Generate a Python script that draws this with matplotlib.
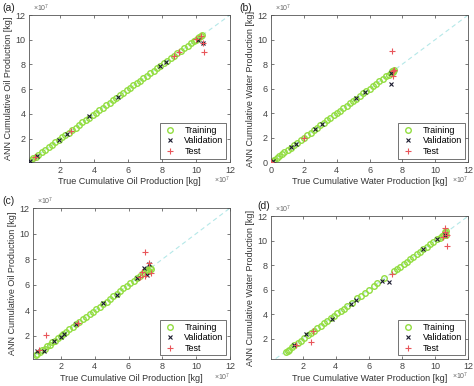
import numpy as np
import matplotlib
matplotlib.use('Agg')
import matplotlib.pyplot as plt

plt.rcParams['font.family'] = ['Liberation Sans', 'DejaVu Sans']
plt.rcParams['mathtext.fontset'] = 'custom'
plt.rcParams['mathtext.rm'] = 'Liberation Sans'

# all values in units of 1e7 kg as (true, ANN) pairs
a_train = [(0.15,0.16),(0.25,0.24),(0.4,0.41),(0.55,0.55),(0.7,0.71),(0.9,0.89),(1.1,1.1),(1.3,1.31),
           (1.5,1.5),(1.7,1.69),(1.9,1.9),(2.1,2.11),(2.3,2.3),(2.5,2.49),(2.7,2.71),(2.9,2.9),(3.1,3.1),
           (3.3,3.31),(3.5,3.5),(3.7,3.69),(3.9,3.9),(4.1,4.1),(4.3,4.31),(4.5,4.5),(4.7,4.7),(4.9,4.89),
           (5.1,5.1),(5.3,5.31),(5.5,5.5),(5.7,5.7),(5.9,5.9),(6.1,6.11),(6.3,6.3),(6.5,6.5),(6.7,6.69),
           (6.9,6.9),(7.1,7.1),(7.3,7.31),(7.5,7.5),(7.7,7.7),(7.9,7.9),(8.1,8.1),(8.3,8.31),(8.5,8.5),
           (8.7,8.7),(8.9,8.89),(9.1,9.1),(9.3,9.3),(9.5,9.5),(9.7,9.7),(9.9,9.9),(10.0,10.0),(10.1,10.12),
           (10.2,10.2),(10.3,10.3),(10.35,10.36)]
a_val = [(0.2,0.2),(0.6,0.6),(1.9,1.9),(2.4,2.4),(3.7,3.8),(5.4,5.4),(7.9,7.9),(8.2,8.2),(10.1,10.0),(10.4,9.7)]
a_test = [(0.5,0.5),(2.6,2.6),(8.7,8.7),(9.0,9.0),(10.0,10.1),(10.3,10.3),(10.4,9.7),(10.45,9.0)]

b_train = [(0.0,0.02),(0.1,0.1),(0.2,0.21),(0.35,0.34),(0.5,0.51),(0.65,0.66),(0.8,0.79),(1.0,1.01),
           (1.2,1.19),(1.4,1.41),(1.6,1.6),(1.8,1.81),(2.0,1.99),(2.2,2.21),(2.4,2.4),(2.6,2.6),(2.8,2.81),
           (3.0,2.99),(3.2,3.21),(3.4,3.4),(3.6,3.6),(3.8,3.81),(4.0,4.0),(4.2,4.19),(4.4,4.41),(4.6,4.6),
           (4.8,4.8),(5.0,5.01),(5.2,5.19),(5.4,5.4),(5.6,5.61),(5.8,5.8),(6.0,6.0),(6.2,6.21),(6.4,6.39),
           (6.6,6.6),(6.8,6.81),(7.0,7.0),(7.15,7.14),(7.3,7.28),(7.35,7.4),(7.4,7.36),(7.45,7.47),(7.5,7.5)]
b_val = [(0.1,0.1),(1.2,1.2),(1.5,1.5),(2.7,2.7),(3.1,3.1),(5.2,5.2),(5.7,5.7),(7.3,6.4),(7.3,7.3)]
b_test = [(0.0,0.05),(2.0,2.0),(7.35,9.1),(7.4,7.0),(7.45,7.4),(7.5,7.5)]

c_train = [(0.5,0.55),(0.6,0.62),(0.75,0.72),(0.9,0.93),(1.05,1.0),(1.2,1.22),(1.35,1.33),(1.5,1.52),
           (1.65,1.62),(1.8,1.83),(2.0,1.98),(2.15,2.18),(2.3,2.32),(2.5,2.55),(2.7,2.68),(2.9,2.93),
           (3.1,3.08),(3.3,3.33),(3.5,3.5),(3.7,3.72),(3.9,3.87),(4.1,4.12),(4.3,4.3),(4.5,4.53),(4.7,4.68),
           (4.9,4.92),(5.1,5.12),(5.3,5.28),(5.5,5.55),(5.7,5.72),(5.9,5.88),(6.1,6.12),(6.3,6.3),(6.5,6.52),
           (6.7,6.68),(6.85,6.9),(7.0,7.05),(7.1,7.15),(7.2,7.1),(7.25,7.3),(7.3,7.25)]
c_val = [(0.6,0.8),(1.0,0.85),(1.6,1.6),(2.0,1.95),(2.2,2.15),(2.9,2.9),(4.5,4.6),(5.3,5.2),(6.5,6.5),
         (6.9,7.3),(7.2,7.6),(7.1,6.8)]
c_test = [(0.7,0.9),(1.1,2.1),(3.0,3.0),(6.7,6.6),(6.8,7.0),(7.0,8.6),(7.0,6.7),(7.2,7.7),(7.3,6.9)]

d_train = [(1.0,0.9),(1.1,1.0),(1.2,1.1),(1.35,1.3),(1.5,1.45),(1.7,1.65),(1.9,1.85),(2.1,2.05),(2.3,2.3),
           (2.5,2.5),(2.7,2.65),(2.9,2.9),(3.1,3.05),(3.3,3.3),(3.5,3.45),(3.7,3.7),(3.9,3.85),(4.1,4.1),
           (4.3,4.3),(4.5,4.45),(4.7,4.7),(5.0,4.95),(5.3,5.3),(5.5,5.5),(5.8,5.75),(6.0,6.0),(6.3,6.3),
           (6.5,6.55),(6.9,6.95),(7.5,7.5),(7.7,7.7),(7.9,7.85),(8.1,8.1),(8.3,8.3),(8.5,8.5),(8.7,8.65),
           (8.9,8.9),(9.1,9.1),(9.3,9.3),(9.5,9.5),(9.7,9.7),(9.9,9.9),(10.1,10.1),(10.3,10.25),(10.45,10.4),
           (10.55,10.5),(10.6,10.6),(10.65,10.45),(10.6,10.7),(10.65,10.8)]
d_val = [(1.5,1.5),(2.2,2.35),(3.8,3.6),(4.9,4.85),(5.2,5.2),(6.8,6.7),(7.2,6.6),(9.3,9.3),(10.1,10.1),
         (10.6,10.5)]
d_test = [(1.6,1.5),(2.5,1.7),(2.6,2.6),(7.4,7.3),(10.5,10.3),(10.6,11.0),(10.6,10.7),(10.7,10.5),(10.7,9.6)]

ticks = [0, 2, 4, 6, 8, 10, 12]

panels = [
    ('(a)', a_train, a_val, a_test, 'True Cumulative Oil Production [kg]', 'ANN Cumulative Oil Production [kg]',
     [0.0612, 0.580, 0.424, 0.381], (0.15, 12), (0.1, 12)),
    ('(b)', b_train, b_val, b_test, 'True Cumulative Water Production [kg]', 'ANN Cumulative Water Production [kg]',
     [0.572, 0.580, 0.4156, 0.381], (0, 12), (0, 12)),
    ('(c)', c_train, c_val, c_test, 'True Cumulative Oil Production [kg]', 'ANN Cumulative Oil Production [kg]',
     [0.0696, 0.070, 0.4156, 0.391], (0.35, 12), (0.2, 12)),
    ('(d)', d_train, d_val, d_test, 'True Cumulative Water Production [kg]', 'ANN Cumulative Water Production [kg]',
     [0.572, 0.070, 0.4156, 0.370], (0.1, 12), (0.35, 12)),
]

fig = plt.figure(figsize=(4.74, 3.86), dpi=100)
axcol = '#444444'
green = '#92dd40'

for tag, tr, va, te, xl, yl, pos, xlim, ylim in panels:
    ax = fig.add_axes(pos)
    tr = np.array(tr); va = np.array(va); te = np.array(te)
    ax.plot([0, 12], [0, 12], ls=(0, (4, 3)), color='#b4e8e8', lw=0.8, zorder=1)
    ax.plot(tr[:, 0], tr[:, 1], 'o', mfc='none', mec=green, ms=4, mew=1.0, label='Training', zorder=2)
    ax.plot(va[:, 0], va[:, 1], 'x', color='#1a1a2e', ms=2.4, mew=0.8, label='Validation', zorder=3)
    ax.plot(te[:, 0], te[:, 1], '+', color='#e8555a', ms=4, mew=0.8, label='Test', zorder=4)
    ax.set_xlim(*xlim)
    ax.set_ylim(*ylim)
    ax.set_xticks([t for t in ticks if t >= xlim[0]])
    ax.set_yticks([t for t in ticks if t >= ylim[0]])
    ax.tick_params(direction='in', length=2.5, width=0.5, labelsize=6.5, colors=axcol, top=True, right=True,
                   pad=2.5, labeltop=False, labelright=False)
    for s in ax.spines.values():
        s.set_color('#555555')
        s.set_linewidth(0.6)
    ax.set_xlabel(xl, fontsize=6.5, color='#333333', labelpad=2)
    ax.set_ylabel(yl, fontsize=6.5, color='#333333', labelpad=2)
    ax.text(0.02, 1.005, r'$\times10^7$', transform=ax.transAxes, fontsize=5, color='#666666',
            ha='left', va='bottom')
    ax.text(1.0, -0.125, r'$\times10^7$', transform=ax.transAxes, fontsize=5, color='#666666',
            ha='right', va='center')
    leg = ax.legend(loc='lower right', fontsize=6.5, frameon=True, fancybox=False, handlelength=1.6,
                    handletextpad=0.8, borderpad=0.3, labelspacing=0.15, borderaxespad=0.4)
    leg.get_frame().set_edgecolor('#333333')
    leg.get_frame().set_linewidth(0.6)

fig.text(0.004, 0.980, '(a)', fontsize=7.5, color='#222222', va='center')
fig.text(0.504, 0.980, '(b)', fontsize=7.5, color='#222222', va='center')
fig.text(0.004, 0.478, '(c)', fontsize=7.5, color='#222222', va='center')
fig.text(0.542, 0.466, '(d)', fontsize=7.5, color='#222222', va='center')

fig.savefig('out.png', dpi=100)
